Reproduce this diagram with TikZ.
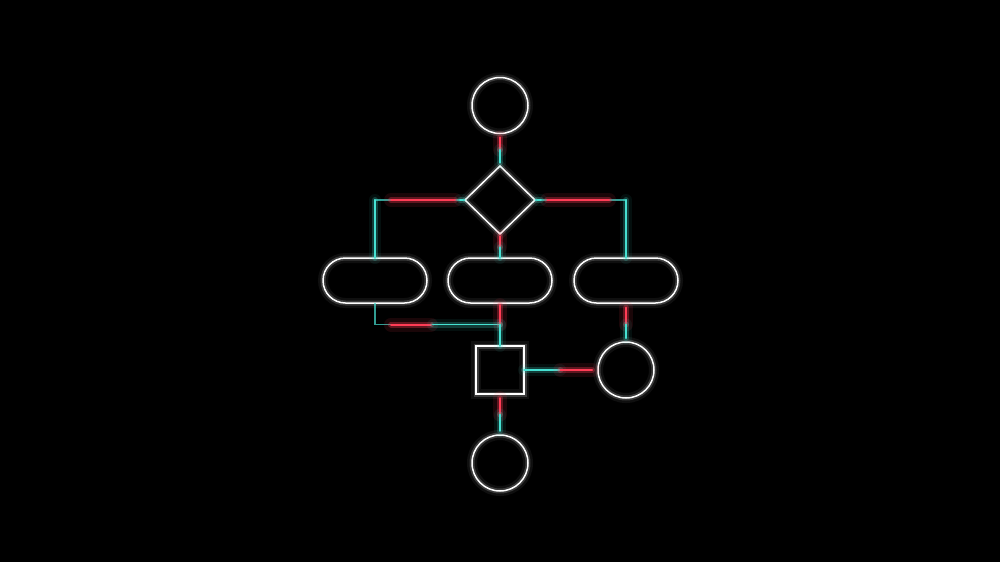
\documentclass[tikz,border=0pt]{standalone}
\usetikzlibrary{shapes.geometric,calc}
\definecolor{neonred}{RGB}{255,60,85}
\definecolor{neonteal}{RGB}{70,225,210}
\tikzset{
  x=0.5pt,y=-0.5pt,
  shapebox/.style={draw=white, line width=0.75pt, inner sep=0pt, outer sep=0pt,
    preaction={draw=white, line width=2.5pt, opacity=0.18},
    preaction={draw=white, line width=5pt, opacity=0.06}},
  circ/.style={shapebox, circle, minimum size=28pt},
  dia/.style={shapebox, diamond, minimum width=35pt, minimum height=34pt},
  pill/.style={shapebox, rectangle, rounded corners=11.25pt, minimum width=52pt, minimum height=22.5pt},
  sqbox/.style={shapebox, rectangle, minimum size=24pt},
  redline/.style={draw=neonred, line width=1pt, line cap=round,
    preaction={draw=neonred, line width=3pt, opacity=0.3, line cap=round},
    preaction={draw=neonred, line width=7pt, opacity=0.1, line cap=round}},
  tealline/.style={draw=neonteal, line width=0.9pt, line cap=round,
    preaction={draw=neonteal, line width=3pt, opacity=0.22, line cap=round},
    preaction={draw=neonteal, line width=6pt, opacity=0.07, line cap=round}},
  dimline/.style={draw=neonteal, line width=0.6pt, opacity=0.7},
}
\begin{document}
\begin{tikzpicture}
\fill[black] (0,0) rectangle (1000,562);
\useasboundingbox (0,0) rectangle (1000,562);

\node[circ] (top) at (500,105.5) {};
\node[dia] (d) at (500,200) {};
\node[pill] (p1) at (375,280.5) {};
\node[pill] (p2) at (500,280.5) {};
\node[pill] (p3) at (626,280.5) {};
\node[sqbox] (sq) at (500,370) {};
\node[circ] (rc) at (626,370) {};
\node[circ] (bc) at (500,463) {};
\coordinate (j) at ($(p2.south)!0.5!(sq.north)$);

% top circle to diamond
\draw[redline] ($(top.south)!0.12!(d.north)$) -- ($(top.south)!0.5!(d.north)$);
\draw[tealline] ($(top.south)!0.5!(d.north)$) -- ($(top.south)!0.9!(d.north)$);

% diamond to middle pill
\draw[redline] ($(d.south)!0.1!(p2.north)$) -- ($(d.south)!0.55!(p2.north)$);
\draw[tealline] ($(d.south)!0.55!(p2.north)$) -- (p2.north);

% left branch
\draw[dimline] (d.west) -| (p1.north);
\draw[tealline] (d.west -| p1.north) -- (p1.north);
\draw[redline] ($(d.west)+(-10,0)$) -- ($(d.west -| p1.north)+(16,0)$);
\draw[tealline] ($(d.west)+(-2,0)$) -- ($(d.west)+(-5,0)$);

% right branch
\draw[dimline] (d.east) -| (p3.north);
\draw[tealline] (d.east -| p3.north) -- (p3.north);
\draw[redline] ($(d.east)+(12,0)$) -- ($(d.east -| p3.north)+(-17,0)$);
\draw[tealline] ($(d.east)+(2,0)$) -- ($(d.east)+(6,0)$);

% left pill to junction
\draw[dimline] (p1.south) |- (j);
\draw[redline] ($(p1.south |- j)+(16,0)$) -- ($(p1.south |- j)+(56,0)$);
\draw[tealline] ($(p1.south |- j)+(58,0)$) -- (j);

% middle pill to square
\draw[redline] ($(p2.south)!0.05!(sq.north)$) -- (j);
\draw[tealline] (j) -- (sq.north);

% square to right circle
\draw[tealline] (sq.east) -- ($(sq.east)!0.49!(rc.west)$);
\draw[redline] ($(sq.east)!0.49!(rc.west)$) -- ($(sq.east)!0.92!(rc.west)$);

% right pill to right circle
\draw[redline] ($(p3.south)!0.12!(rc.north)$) -- ($(p3.south)!0.55!(rc.north)$);
\draw[tealline] ($(p3.south)!0.55!(rc.north)$) -- ($(p3.south)!0.9!(rc.north)$);

% square to bottom circle
\draw[redline] ($(sq.south)!0.1!(bc.north)$) -- ($(sq.south)!0.5!(bc.north)$);
\draw[tealline] ($(sq.south)!0.5!(bc.north)$) -- ($(sq.south)!0.9!(bc.north)$);
\end{tikzpicture}
\end{document}
